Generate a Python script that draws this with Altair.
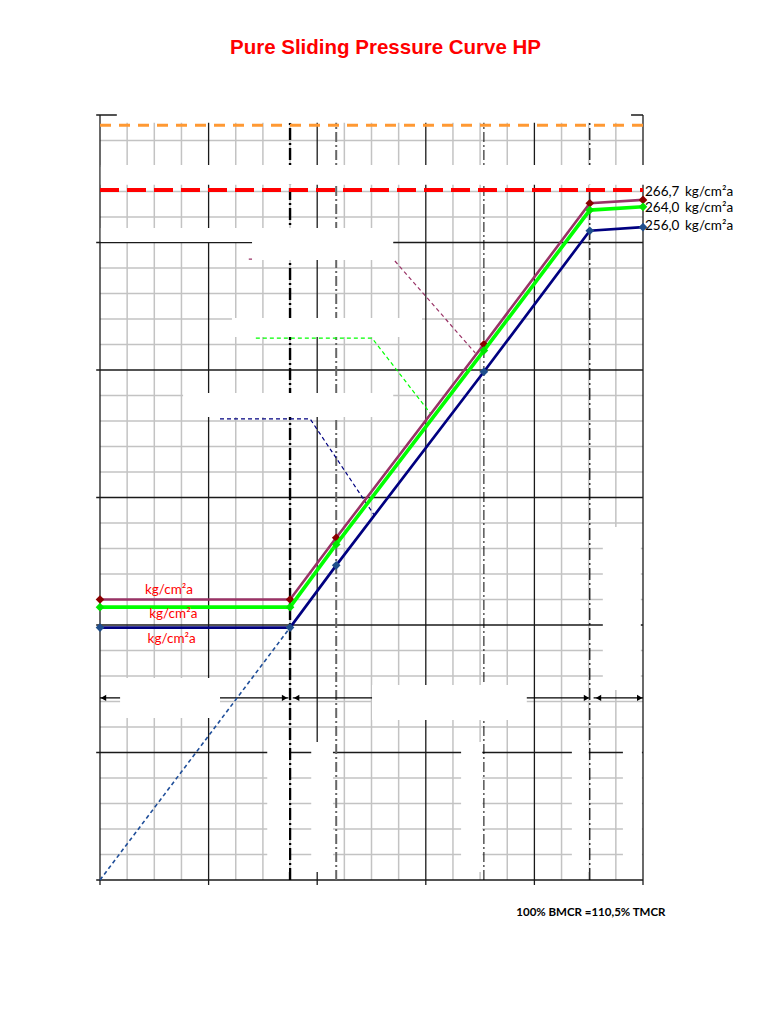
import altair as alt
import pandas as pd

# ---------------- data ----------------
load_pts = [0.0, 35.0, 43.5, 70.7, 90.2, 100.0]
hp_purple = [110.0, 110.0, 134.2, 210.1, 265.4, 266.7]
hp_green = [107.0, 107.0, 131.6, 207.6, 262.7, 264.0]
hp_blue = [99.0, 99.0, 123.4, 199.3, 254.6, 256.0]

ext_load = [0.0, 35.0]          # dashed extension of the blue curve to the origin
ext_press = [0.0, 99.0]

orange_limit = 296.0
red_limit = 270.6

marker_loads = [35.0, 43.5, 70.7, 90.2]

x_minor = [5, 10, 15, 25, 30, 35, 45, 50, 55, 65, 70, 75, 85, 90, 95]
x_major = [0, 20, 40, 60, 80, 100]
y_minor = [10, 20, 30, 40, 60, 70, 80, 90, 110, 120, 130, 140, 160, 170, 180, 190,
           210, 220, 230, 240, 260, 270, 280, 290]
y_major = [0, 50, 100, 150, 200, 250, 300]

title_text = "Pure Sliding Pressure Curve HP"
unit_text = "kg/cm²a"
right_values = ["266,7", "264,0", "256,0"]
right_label_y = [269.8, 263.5, 256.6]
left_label_x = [12.7, 13.5, 13.2]
left_label_y = [113.8, 104.3, 94.5]
note_text = "100% BMCR =110,5% TMCR"
note_x = [90.4]
note_y = [-12.9]

# leader lines (load, pressure)
lead_purple_x = [27.4, 54.0, 69.1]
lead_purple_y = [243.5, 243.5, 206.7]
lead_green_x = [28.7, 50.1, 60.8]
lead_green_y = [212.5, 212.5, 183.1]
lead_blue_x = [22.1, 38.7, 50.5]
lead_blue_y = [180.8, 180.8, 143.1]

# blanked (white) areas: x, x2, y, y2
blank_x = [3.1, 0.15, 0.15, 28.0, 24.3, 15.3, 92.6, 3.7, 50.1, 38.9, 66.5, 86.9, 96.3, 30.8]
blank_x2 = [97.8, 100.4, 54.0, 54.0, 59.3, 54.0, 99.6, 22.1, 78.6, 42.9, 70.4, 90.0, 99.8, 34.8]
blank_y = [297.0, 272.6, 250.2, 243.1, 212.9, 181.6, 74.5, 63.5, 62.7, 3.1, 3.1, 3.1, 3.1, 3.1]
blank_y2 = [301.0, 280.4, 255.7, 255.7, 220.4, 191.0, 138.4, 79.2, 76.5, 54.1, 54.1, 54.1, 54.1, 54.1]

# range arrows
arrow_level = 71.4
arrow_from = [0.0, 35.5, 90.9]
arrow_to = [34.7, 90.0, 100.0]
head_left_x = [0.64, 36.2, 91.8]
head_right_x = [34.0, 89.6, 99.4]

# ---------------- helpers ----------------
XS = alt.Scale(domain=[0, 100], nice=False, zero=False)
YS = alt.Scale(domain=[0, 300], nice=False, zero=False)


def X(f="x"):
    return alt.X(f"{f}:Q", scale=XS, axis=None)


def Y(f="y"):
    return alt.Y(f"{f}:Q", scale=YS, axis=None)


layers = []

# minor grid
layers.append(alt.Chart(pd.DataFrame({"x": x_minor, "y": 0, "y2": 300})).mark_rule(
    color="#C3C3C3", strokeWidth=1.5).encode(x=X(), y=Y(), y2="y2"))
layers.append(alt.Chart(pd.DataFrame({"y": y_minor, "x": 0, "x2": 100})).mark_rule(
    color="#C3C3C3", strokeWidth=1.5).encode(y=Y(), x=X(), x2="x2"))
# major grid with small ticks outside
layers.append(alt.Chart(pd.DataFrame({"x": x_major, "y": -2.0, "y2": 300})).mark_rule(
    color="#1A1A1A", strokeWidth=1.3).encode(x=X(), y=Y(), y2="y2"))
layers.append(alt.Chart(pd.DataFrame({"y": y_major, "x": -0.7, "x2": 100})).mark_rule(
    color="#1A1A1A", strokeWidth=1.3).encode(y=Y(), x=X(), x2="x2"))

# dash-dot vertical lines
vstyles = [("#000000", 2.4, [12, 3, 2, 3]), ("#666666", 2.0, [10, 3, 2, 3]),
           ("#000000", 1.0, [10, 3, 2, 3]), ("#000000", 1.2, [12, 3, 2, 3])]
for xv, (col, w, dash) in zip(marker_loads, vstyles):
    layers.append(alt.Chart(pd.DataFrame({"x": [xv], "y": [0.0], "y2": [300.0]})).mark_rule(
        color=col, strokeWidth=w, strokeDash=dash).encode(x=X(), y=Y(), y2="y2"))

# arrow shafts
layers.append(alt.Chart(pd.DataFrame({"x": arrow_from, "x2": arrow_to, "y": arrow_level})).mark_rule(
    color="#000000", strokeWidth=1.3).encode(x=X(), x2="x2", y=Y()))

# leader lines
for lx, ly, col in [(lead_purple_x, lead_purple_y, "#993366"),
                    (lead_green_x, lead_green_y, "#00FF00"),
                    (lead_blue_x, lead_blue_y, "#000080")]:
    layers.append(alt.Chart(pd.DataFrame({"x": lx, "y": ly, "o": range(len(lx))})).mark_line(
        color=col, strokeWidth=1.2, strokeDash=[4, 3]).encode(x=X(), y=Y(), order="o:Q"))

# blanked areas
layers.append(alt.Chart(pd.DataFrame({"x": blank_x, "x2": blank_x2, "y": blank_y, "y2": blank_y2})).mark_rect(
    color="white").encode(x=X(), x2="x2", y=Y(), y2="y2"))

# arrow heads
layers.append(alt.Chart(pd.DataFrame({"x": head_left_x, "y": arrow_level})).mark_point(
    shape="triangle-left", filled=True, size=40, color="black", opacity=1).encode(x=X(), y=Y()))
layers.append(alt.Chart(pd.DataFrame({"x": head_right_x, "y": arrow_level})).mark_point(
    shape="triangle-right", filled=True, size=40, color="black", opacity=1).encode(x=X(), y=Y()))

# limit lines
layers.append(alt.Chart(pd.DataFrame({"y": [orange_limit], "x": [0.0], "x2": [100.0]})).mark_rule(
    color="#FF9933", strokeWidth=3, strokeDash=[11, 8]).encode(y=Y(), x=X(), x2="x2"))
layers.append(alt.Chart(pd.DataFrame({"y": [red_limit], "x": [0.0], "x2": [100.0]})).mark_rule(
    color="#FF0000", strokeWidth=4, strokeDash=[19, 8]).encode(y=Y(), x=X(), x2="x2"))

# dashed extension to origin
layers.append(alt.Chart(pd.DataFrame({"x": ext_load, "y": ext_press})).mark_line(
    color="#1F4E99", strokeWidth=1.6, strokeDash=[4, 3]).encode(x=X(), y=Y()))

# pressure curves
for vals, lcol, w, mcol in [(hp_purple, "#993366", 2.6, "#8B0000"),
                            (hp_green, "#00FF00", 3.6, "#00E600"),
                            (hp_blue, "#000080", 2.7, "#1F4E8C")]:
    df = pd.DataFrame({"x": load_pts, "y": vals})
    layers.append(alt.Chart(df).mark_line(color=lcol, strokeWidth=w).encode(x=X(), y=Y()))
    layers.append(alt.Chart(df).mark_point(shape="diamond", filled=True, size=75, color=mcol,
                                           opacity=1).encode(x=X(), y=Y()))

# texts
layers.append(alt.Chart(pd.DataFrame({"x": left_label_x, "y": left_label_y, "t": [unit_text] * 3})).mark_text(
    font="Lato", fontSize=13.5, color="#FF0000", align="center", baseline="middle").encode(
    x=X(), y=Y(), text="t:N"))
layers.append(alt.Chart(pd.DataFrame({"x": 100.0, "y": right_label_y, "t": right_values})).mark_text(
    font="Lato", fontSize=13.5, color="#000000", align="left", baseline="middle", dx=2).encode(
    x=X(), y=Y(), text="t:N"))
layers.append(alt.Chart(pd.DataFrame({"x": 100.0, "y": right_label_y, "t": [unit_text] * 3})).mark_text(
    font="Lato", fontSize=13.5, color="#000000", align="left", baseline="middle", dx=42).encode(
    x=X(), y=Y(), text="t:N"))
layers.append(alt.Chart(pd.DataFrame({"x": note_x, "y": note_y, "t": [note_text]})).mark_text(
    font="Lato", fontSize=11.5, fontWeight="bold", color="#000000", align="center", baseline="middle").encode(
    x=X(), y=Y(), text="t:N"))

chart = alt.layer(*layers).properties(
    width=543,
    height=765,
    autosize="none",
    padding={"left": 92, "top": 107, "right": 110, "bottom": 60},
    title=alt.Title(title_text, font="Liberation Sans", fontSize=20.5, fontWeight="bold",
                    color="#FF0000", anchor="middle", offset=54, dx=14),
).configure_view(stroke=None)

chart.save("out.html", embed_options={"renderer": "svg", "actions": False})
